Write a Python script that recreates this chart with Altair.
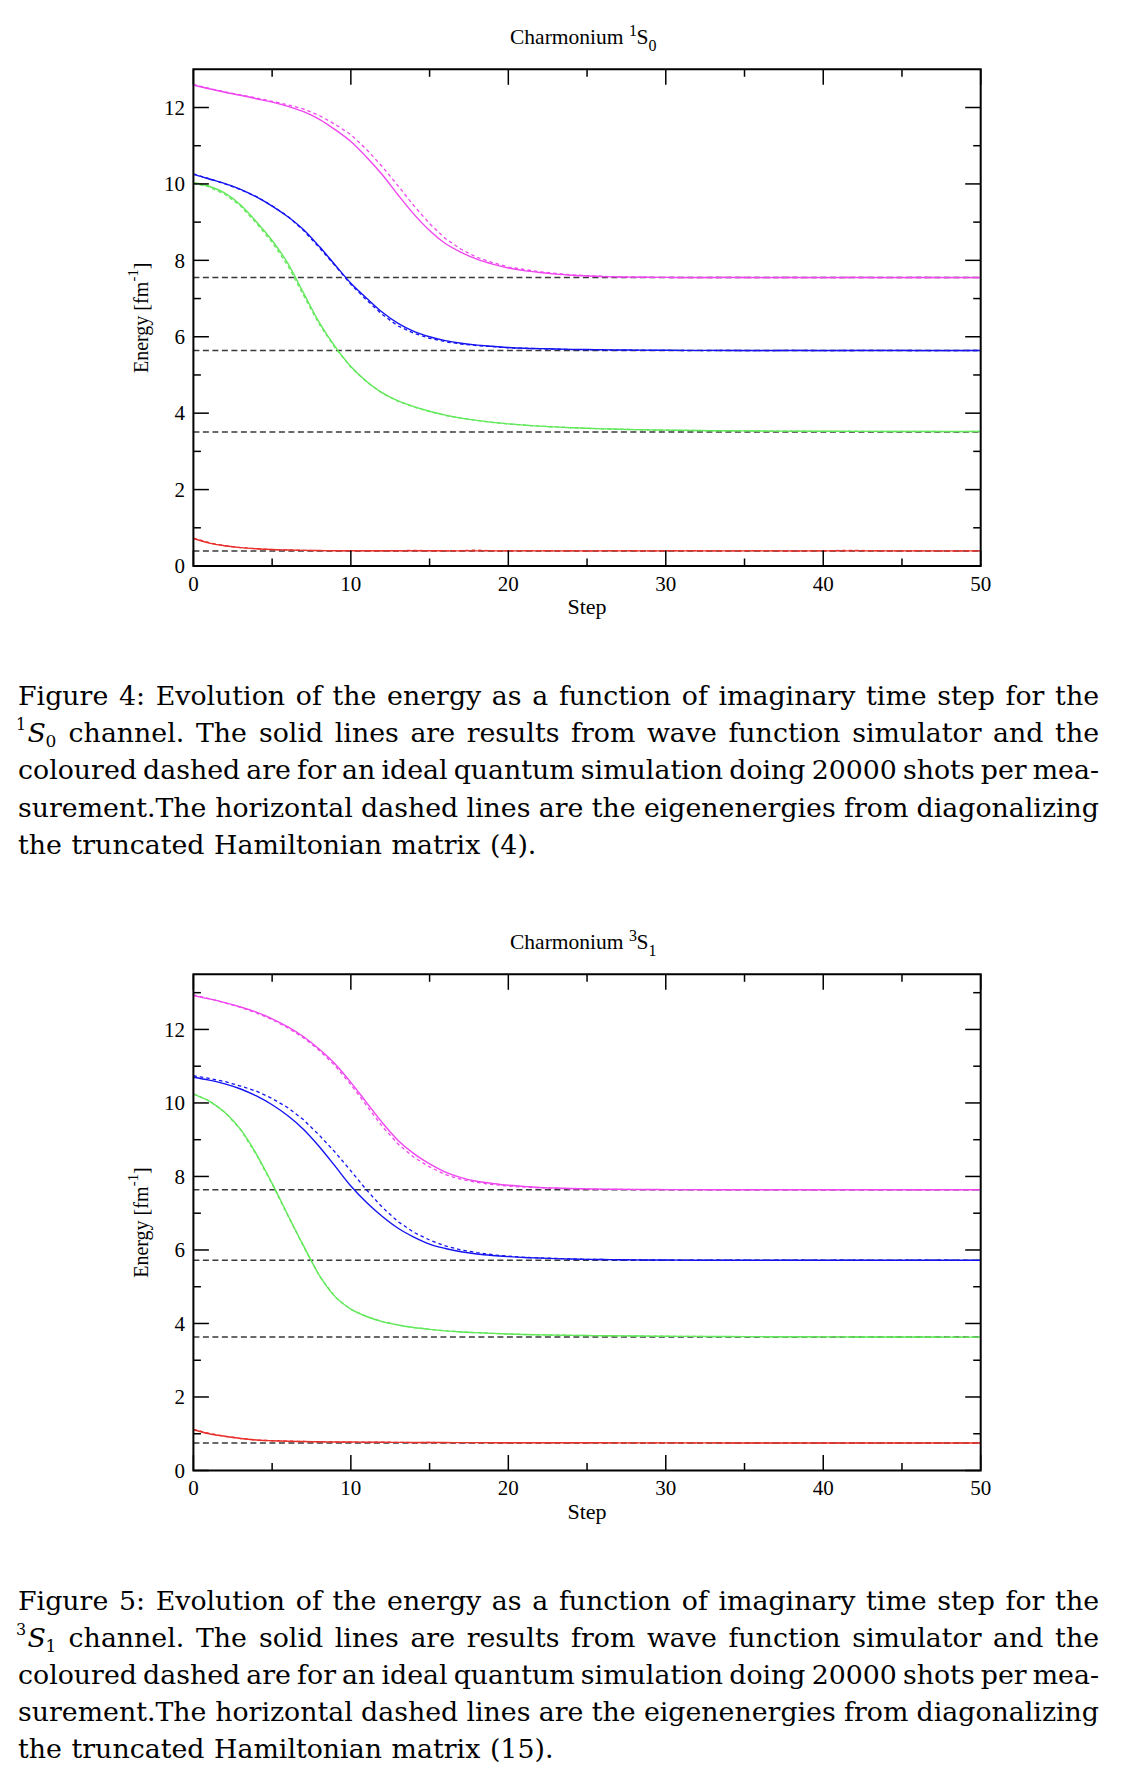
import altair as alt
import pandas as pd

# ---------------- data ----------------
STEPS = [0, 1, 2, 3, 4, 5, 6, 7, 8, 9, 10, 11, 12, 13, 14, 15, 16, 17, 18, 19, 20,
         21, 22, 23, 24, 25, 26, 27, 28, 29, 30, 32, 34, 36, 38, 40, 42, 44, 46, 48, 50]

# Charmonium 1S0
S0_RED_SOL = [0.72, 0.60, 0.53, 0.48, 0.45, 0.43, 0.42, 0.41, 0.405, 0.40, 0.40, 0.40, 0.40, 0.40,
              0.398, 0.398, 0.397, 0.397, 0.396, 0.396, 0.396, 0.395, 0.395, 0.395, 0.395, 0.395,
              0.395, 0.395, 0.395, 0.395, 0.395, 0.395, 0.395, 0.395, 0.395, 0.395, 0.395, 0.395,
              0.395, 0.395, 0.395]
S0_RED_DAS = [0.73, 0.61, 0.53, 0.48, 0.45, 0.43, 0.42, 0.41, 0.40, 0.40, 0.405, 0.40, 0.395, 0.40,
              0.41, 0.40, 0.395, 0.405, 0.415, 0.40, 0.395, 0.40, 0.405, 0.395, 0.40, 0.39, 0.40,
              0.405, 0.40, 0.395, 0.40, 0.40, 0.395, 0.405, 0.39, 0.40, 0.41, 0.395, 0.40, 0.39, 0.40]
S0_GRN_SOL = [10.03, 9.94, 9.76, 9.45, 9.01, 8.52, 7.92, 7.14, 6.37, 5.74, 5.22, 4.83, 4.53, 4.32,
              4.17, 4.05, 3.95, 3.87, 3.81, 3.76, 3.72, 3.69, 3.66, 3.64, 3.62, 3.605, 3.59, 3.58,
              3.57, 3.562, 3.555, 3.545, 3.538, 3.533, 3.529, 3.526, 3.524, 3.522, 3.521, 3.52, 3.52]
S0_GRN_DAS = [10.02, 9.92, 9.73, 9.42, 8.97, 8.47, 7.86, 7.08, 6.32, 5.71, 5.20, 4.82, 4.52, 4.31,
              4.16, 4.04, 3.94, 3.87, 3.81, 3.76, 3.72, 3.685, 3.66, 3.64, 3.62, 3.60, 3.59, 3.58,
              3.57, 3.56, 3.555, 3.546, 3.54, 3.532, 3.53, 3.524, 3.527, 3.52, 3.523, 3.518, 3.521]
S0_BLU_SOL = [10.25, 10.13, 10.01, 9.86, 9.66, 9.42, 9.14, 8.80, 8.36, 7.88, 7.40, 7.01, 6.64, 6.35,
              6.14, 6.00, 5.90, 5.83, 5.78, 5.75, 5.72, 5.70, 5.69, 5.68, 5.67, 5.665, 5.66, 5.655,
              5.65, 5.648, 5.645, 5.643, 5.642, 5.641, 5.64, 5.64, 5.64, 5.64, 5.64, 5.64, 5.64]
S0_BLU_DAS = [10.26, 10.14, 10.00, 9.85, 9.67, 9.43, 9.15, 8.78, 8.33, 7.86, 7.37, 6.96, 6.58, 6.28,
              6.09, 5.96, 5.87, 5.81, 5.77, 5.74, 5.71, 5.70, 5.685, 5.675, 5.665, 5.66, 5.655, 5.65,
              5.648, 5.645, 5.642, 5.638, 5.642, 5.636, 5.643, 5.638, 5.641, 5.644, 5.639, 5.637, 5.641]
S0_MAG_SOL = [12.59, 12.49, 12.40, 12.32, 12.23, 12.14, 12.03, 11.89, 11.69, 11.42, 11.11, 10.70,
              10.24, 9.71, 9.21, 8.78, 8.44, 8.21, 8.03, 7.90, 7.80, 7.73, 7.68, 7.64, 7.61, 7.59,
              7.575, 7.565, 7.56, 7.556, 7.553, 7.551, 7.55, 7.55, 7.55, 7.55, 7.55, 7.55, 7.55, 7.55, 7.55]
S0_MAG_DAS = [12.60, 12.50, 12.41, 12.33, 12.25, 12.16, 12.07, 11.96, 11.79, 11.56, 11.29, 10.90,
              10.45, 9.95, 9.43, 8.96, 8.57, 8.29, 8.08, 7.94, 7.83, 7.76, 7.70, 7.66, 7.62, 7.60,
              7.58, 7.57, 7.56, 7.555, 7.552, 7.548, 7.553, 7.549, 7.551, 7.547, 7.552, 7.548, 7.551,
              7.549, 7.55]
S0_EIGEN = [0.39, 3.51, 5.64, 7.55]

# Charmonium 3S1
S1_RED_SOL = [1.11, 1.00, 0.93, 0.87, 0.83, 0.81, 0.795, 0.787, 0.781, 0.777, 0.774, 0.77, 0.767,
              0.765, 0.763, 0.761, 0.76, 0.759, 0.758, 0.757, 0.756, 0.755, 0.755, 0.754, 0.754,
              0.753, 0.753, 0.752, 0.752, 0.752, 0.751, 0.751, 0.75, 0.75, 0.75, 0.75, 0.75, 0.75,
              0.75, 0.75, 0.75]
S1_RED_DAS = [1.12, 1.01, 0.93, 0.87, 0.83, 0.81, 0.80, 0.79, 0.78, 0.775, 0.77, 0.768, 0.772,
              0.765, 0.76, 0.762, 0.758, 0.76, 0.755, 0.757, 0.753, 0.758, 0.755, 0.75, 0.756, 0.752,
              0.755, 0.75, 0.753, 0.748, 0.752, 0.75, 0.754, 0.749, 0.752, 0.747, 0.751, 0.755, 0.749,
              0.75, 0.752]
S1_GRN_SOL = [10.24, 10.05, 9.74, 9.28, 8.61, 7.81, 6.95, 6.11, 5.31, 4.73, 4.39, 4.19, 4.05, 3.96,
              3.89, 3.84, 3.80, 3.77, 3.75, 3.73, 3.715, 3.70, 3.69, 3.683, 3.677, 3.672, 3.668,
              3.664, 3.66, 3.656, 3.653, 3.648, 3.644, 3.641, 3.638, 3.636, 3.634, 3.632, 3.631,
              3.63, 3.63]
S1_GRN_DAS = [10.25, 10.06, 9.75, 9.27, 8.59, 7.79, 6.93, 6.09, 5.29, 4.72, 4.38, 4.19, 4.05, 3.96,
              3.89, 3.84, 3.80, 3.775, 3.75, 3.73, 3.715, 3.70, 3.69, 3.685, 3.678, 3.672, 3.667,
              3.663, 3.66, 3.655, 3.652, 3.646, 3.642, 3.64, 3.636, 3.634, 3.633, 3.63, 3.632,
              3.629, 3.63]
S1_BLU_SOL = [10.70, 10.62, 10.52, 10.38, 10.19, 9.95, 9.65, 9.28, 8.81, 8.28, 7.74, 7.29, 6.91,
              6.59, 6.35, 6.16, 6.04, 5.95, 5.89, 5.85, 5.82, 5.795, 5.78, 5.765, 5.755, 5.745, 5.74,
              5.735, 5.73, 5.727, 5.725, 5.722, 5.72, 5.72, 5.72, 5.72, 5.72, 5.72, 5.72, 5.72, 5.72]
S1_BLU_DAS = [10.74, 10.67, 10.58, 10.46, 10.32, 10.12, 9.87, 9.54, 9.12, 8.66, 8.15, 7.63, 7.16,
              6.77, 6.48, 6.27, 6.11, 6.00, 5.93, 5.87, 5.83, 5.80, 5.785, 5.77, 5.755, 5.745, 5.74,
              5.733, 5.73, 5.726, 5.723, 5.72, 5.723, 5.718, 5.722, 5.719, 5.721, 5.717, 5.722,
              5.72, 5.718]
S1_MAG_SOL = [12.92, 12.83, 12.73, 12.61, 12.47, 12.29, 12.07, 11.80, 11.46, 11.06, 10.56, 10.01,
              9.46, 8.98, 8.62, 8.34, 8.12, 7.97, 7.87, 7.81, 7.76, 7.73, 7.70, 7.685, 7.672, 7.663,
              7.656, 7.651, 7.648, 7.645, 7.643, 7.641, 7.64, 7.64, 7.64, 7.64, 7.64, 7.64, 7.64,
              7.64, 7.64]
S1_MAG_DAS = [12.94, 12.84, 12.72, 12.60, 12.45, 12.27, 12.04, 11.77, 11.43, 11.01, 10.50, 9.93,
              9.36, 8.88, 8.52, 8.26, 8.05, 7.92, 7.84, 7.78, 7.74, 7.71, 7.69, 7.675, 7.665, 7.656,
              7.65, 7.647, 7.644, 7.642, 7.64, 7.638, 7.642, 7.639, 7.641, 7.637, 7.642, 7.64,
              7.638, 7.641, 7.64]
S1_EIGEN = [0.75, 3.63, 5.72, 7.64]

LEVELS = ["E0", "E1", "E2", "E3"]
COLORS = ["#e8302c", "#62e85a", "#1414f2", "#f046f0"]

X_MAJOR = [0, 10, 20, 30, 40, 50]
X_MINOR = [5, 15, 25, 35, 45]

CAPTION_4 = [
    "Figure 4: Evolution of the energy as a function of imaginary time step for the",
    "# channel. The solid lines are results from wave function simulator and the",
    "coloured dashed are for an ideal quantum simulation doing 20000 shots per mea-",
    "surement.The horizontal dashed lines are the eigenenergies from diagonalizing",
    "the truncated Hamiltonian matrix (4).",
]
CAPTION_5 = [
    "Figure 5: Evolution of the energy as a function of imaginary time step for the",
    "# channel. The solid lines are results from wave function simulator and the",
    "coloured dashed are for an ideal quantum simulation doing 20000 shots per mea-",
    "surement.The horizontal dashed lines are the eigenenergies from diagonalizing",
    "the truncated Hamiltonian matrix (15).",
]

# ---------------- geometry (chart pixels) ----------------
W, H = 1108, 1762
XL, XR = 185.4, 972.7
TICK_MAJ, TICK_MIN = 15.5, 7.5
AXIS_FONT = "Liberation Serif"
CAP_FONT = "DejaVu Serif"
CAP_FS = 26.8
CAP_X0, CAP_X1 = 10.0, 1091.0
LINE_H = 37.2

DV = {' ': 0.318, 'a': 0.596, 'b': 0.640, 'c': 0.560, 'd': 0.640, 'e': 0.592, 'f': 0.370,
      'g': 0.640, 'h': 0.644, 'i': 0.320, 'j': 0.320, 'k': 0.602, 'l': 0.320, 'm': 0.948,
      'n': 0.644, 'o': 0.602, 'p': 0.640, 'q': 0.640, 'r': 0.478, 's': 0.513, 't': 0.402,
      'u': 0.644, 'v': 0.565, 'w': 0.856, 'x': 0.564, 'y': 0.565, 'z': 0.523, 'E': 0.730,
      'F': 0.694, 'H': 0.872, 'S': 0.685, 'T': 0.682, ':': 0.337, '.': 0.318, '-': 0.338,
      '(': 0.390, ')': 0.390}


def tw(s, fs):
    return sum(DV.get(c, 0.636) for c in s) * fs


text_rows = {}


def add_text(key, x, y, t, fs):
    text_rows.setdefault(key, []).append({"px": x, "py": y, "txt": t, "fs": fs})


def caption(lines, sup, sub, base_y):
    special_w = 39.0
    for i, line in enumerate(lines):
        y = base_y + i * LINE_H
        words = line.split(" ")
        widths = [special_w if w == "#" else tw(w, CAP_FS) for w in words]
        justify = i < len(lines) - 1
        gap = (CAP_X1 - CAP_X0 - sum(widths)) / (len(words) - 1) if justify else CAP_FS * 0.36
        x = CAP_X0
        for j, (w, wd) in enumerate(zip(words, widths)):
            if w == "#":
                add_text((CAP_FONT, "left", 0, "normal"), x - 2, y - 12, sup, 16)
                add_text((CAP_FONT, "left", 0, "italic"), x + 9.5, y, "S", CAP_FS)
                add_text((CAP_FONT, "left", 0, "normal"), x + 27.5, y + 5, sub, 17)
            elif justify and j == len(words) - 1:
                add_text((CAP_FONT, "right", 0, "normal"), CAP_X1, y, w, CAP_FS)
            else:
                add_text((CAP_FONT, "left", 0, "normal"), x, y, w, CAP_FS)
            x += wd + gap


def panel(top, bot, ymax, curves, eigen, sup, sub, cap_lines):
    xs = alt.Scale(domain=[0, 50], range=[XL, XR], nice=False, zero=False)
    ys = alt.Scale(domain=[0, ymax], range=[bot, top], nice=False, zero=False)

    rows = []
    for lev, sol, das in curves:
        if len(sol) != len(STEPS) or len(das) != len(STEPS):
            raise ValueError("length mismatch " + lev)
        for s, a, b in zip(STEPS, sol, das):
            rows.append({"step": s, "level": lev, "sol": a, "das": b})
    df = pd.DataFrame(rows)
    color = alt.Color("level:N", scale=alt.Scale(domain=LEVELS, range=COLORS), legend=None)

    layers = []
    layers.append(
        alt.Chart(pd.DataFrame({"E": eigen}))
        .mark_rule(color="#3a3a3a", strokeWidth=1.5, strokeDash=[6, 3.5])
        .encode(y=alt.Y("E:Q", scale=ys, axis=None), x=alt.value(XL), x2=alt.value(XR))
    )
    layers.append(
        alt.Chart(df).mark_line(strokeWidth=1.4, interpolate="monotone")
        .encode(x=alt.X("step:Q", scale=xs, axis=None), y=alt.Y("sol:Q", scale=ys, axis=None),
                color=color, detail="level:N")
    )
    layers.append(
        alt.Chart(df).mark_line(strokeWidth=1.3, strokeDash=[3.5, 3])
        .encode(x=alt.X("step:Q", scale=xs, axis=None), y=alt.Y("das:Q", scale=ys, axis=None),
                color=color, detail="level:N")
    )
    # ticks (inside, all four sides)
    y_major = [v for v in range(0, int(ymax) + 1) if v % 2 == 0]
    y_minor = [v for v in range(0, int(ymax) + 1) if v % 2 == 1 and v < ymax]
    for ticks, ln in ((X_MAJOR, TICK_MAJ), (X_MINOR, TICK_MIN)):
        tdf = pd.DataFrame({"t": ticks})
        for y1, y2 in ((bot, bot - ln), (top, top + ln)):
            layers.append(
                alt.Chart(tdf).mark_rule(color="black", strokeWidth=1.5)
                .encode(x=alt.X("t:Q", scale=xs, axis=None), y=alt.value(y1), y2=alt.value(y2))
            )
    for ticks, ln in ((y_major, TICK_MAJ), (y_minor, TICK_MIN)):
        tdf = pd.DataFrame({"t": ticks})
        for x1, x2 in ((XL, XL + ln), (XR, XR - ln)):
            layers.append(
                alt.Chart(tdf).mark_rule(color="black", strokeWidth=1.5)
                .encode(y=alt.Y("t:Q", scale=ys, axis=None), x=alt.value(x1), x2=alt.value(x2))
            )
    # frame
    layers.append(
        alt.Chart(pd.DataFrame({"a": [0]}))
        .mark_rect(filled=False, stroke="black", color="black", strokeWidth=2)
        .encode(x=alt.value(XL), x2=alt.value(XR), y=alt.value(top), y2=alt.value(bot))
    )
    # tick labels
    layers.append(
        alt.Chart(pd.DataFrame({"t": X_MAJOR}))
        .mark_text(font=AXIS_FONT, fontSize=21, align="center", baseline="alphabetic", color="black")
        .encode(x=alt.X("t:Q", scale=xs, axis=None), y=alt.value(bot + 24.5),
                text=alt.Text("t:Q", format="d"))
    )
    layers.append(
        alt.Chart(pd.DataFrame({"t": y_major}))
        .mark_text(font=AXIS_FONT, fontSize=21, align="right", baseline="alphabetic", dy=7.2,
                   color="black")
        .encode(y=alt.Y("t:Q", scale=ys, axis=None), x=alt.value(XL - 8.5),
                text=alt.Text("t:Q", format="d"))
    )

    # titles and axis titles
    add_text((AXIS_FONT, "left", 0, "normal"), 502, top - 25, "Charmonium", 21.5)
    add_text((AXIS_FONT, "left", 0, "normal"), 621, top - 33, sup, 16)
    add_text((AXIS_FONT, "left", 0, "normal"), 628.5, top - 25, "S", 21.5)
    add_text((AXIS_FONT, "left", 0, "normal"), 640.5, top - 18.3, sub, 16)
    add_text((AXIS_FONT, "center", 0, "normal"), (XL + XR) / 2, bot + 48, "Step", 22)
    ymid = (top + bot) / 2
    y0 = ymid + 55.4
    add_text((AXIS_FONT, "left", 270, "normal"), 139.5, y0, "Energy [fm", 20)
    add_text((AXIS_FONT, "left", 270, "normal"), 130.0, y0 - 91.6, "-1", 14.5)
    add_text((AXIS_FONT, "left", 270, "normal"), 139.5, y0 - 91.6 - 12.2, "]", 20)

    caption(cap_lines, sup, sub, bot + 139)
    return alt.layer(*layers)


p1 = panel(61.3, 558.0, 13.0,
           [("E0", S0_RED_SOL, S0_RED_DAS), ("E1", S0_GRN_SOL, S0_GRN_DAS),
            ("E2", S0_BLU_SOL, S0_BLU_DAS), ("E3", S0_MAG_SOL, S0_MAG_DAS)],
           S0_EIGEN, "1", "0", CAPTION_4)
p2 = panel(966.3, 1462.5, 13.5,
           [("E0", S1_RED_SOL, S1_RED_DAS), ("E1", S1_GRN_SOL, S1_GRN_DAS),
            ("E2", S1_BLU_SOL, S1_BLU_DAS), ("E3", S1_MAG_SOL, S1_MAG_DAS)],
           S1_EIGEN, "3", "1", CAPTION_5)

text_layers = []
for (font, align, angle, style), rows in text_rows.items():
    text_layers.append(
        alt.Chart(pd.DataFrame(rows))
        .mark_text(font=font, align=align, baseline="alphabetic", angle=angle, fontStyle=style,
                   color="black")
        .encode(x=alt.X("px:Q", scale=None, axis=None), y=alt.Y("py:Q", scale=None, axis=None),
                text="txt:N", size=alt.Size("fs:Q", scale=None, legend=None))
    )

chart = (
    alt.layer(p1, p2, *text_layers)
    .resolve_scale(y="independent")
    .properties(width=W, height=H, autosize=alt.AutoSizeParams(type="none"), padding=0,
                background="white")
    .configure_view(stroke=None)
)

chart.save("out.html", embed_options={"renderer": "svg", "actions": False})
